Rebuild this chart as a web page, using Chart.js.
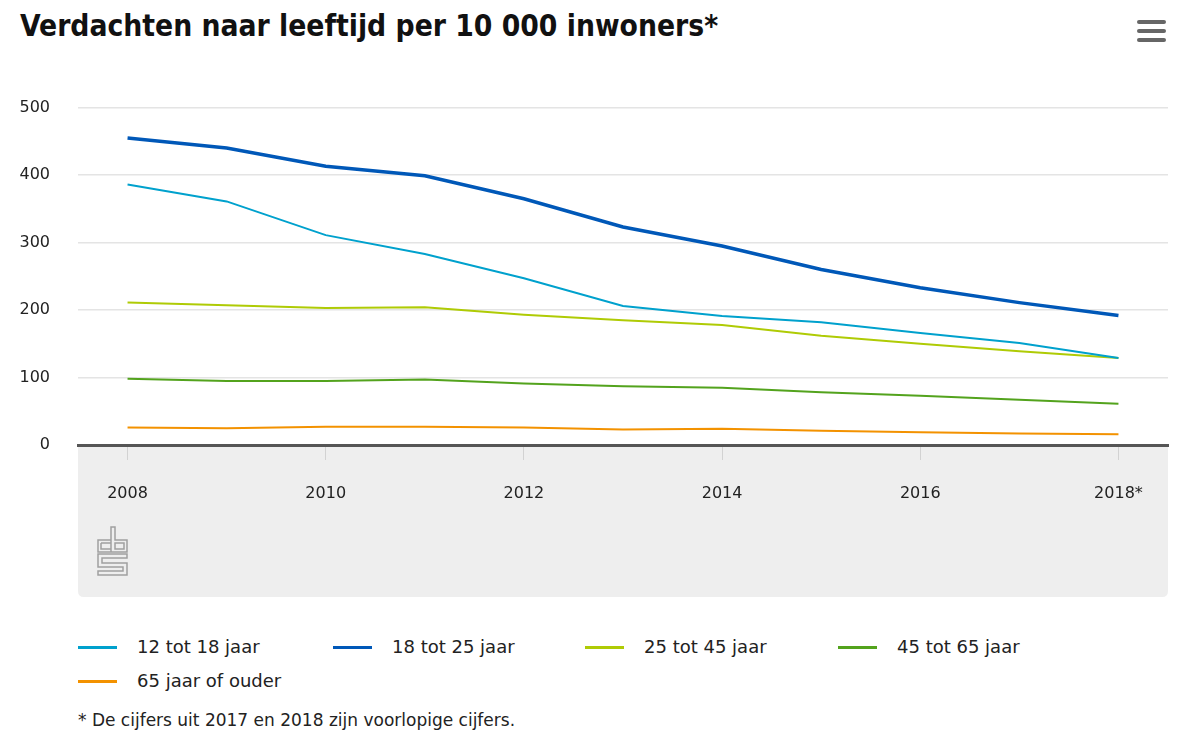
<!DOCTYPE html>
<html>
<head>
<meta charset="utf-8">
<script src="https://cdn.jsdelivr.net/npm/chart.js@4/dist/chart.umd.min.js"></script>
<style>
  body { margin: 0; background: #fff; font-family: "DejaVu Sans", sans-serif; color: #222; }
  #page { position: relative; width: 1200px; height: 737px; overflow: hidden; }
  #title { position: absolute; left: 20px; top: 8px; font-family: "DejaVu Sans Condensed", "DejaVu Sans", sans-serif;
    font-weight: bold; font-size: 29.7px; color: #111; white-space: nowrap; }
  #menu { position: absolute; left: 1137px; top: 20px; width: 29px; }
  #menu div { height: 4px; background: #666; border-radius: 2px; margin-bottom: 5px; }
  #wrap { position: absolute; left: 0; top: 70px; width: 1200px; height: 535px; }
  #legend { position: absolute; left: 78px; top: 634px; width: 1100px; font-size: 18px; color: #222; }
  #legend .item { position: absolute; white-space: nowrap; height: 26px; line-height: 26px; }
  #legend .swatch { display: inline-block; width: 39px; height: 3px; vertical-align: middle; margin-right: 20px; position: relative; top: -1px; }
  #note { position: absolute; left: 78px; top: 710px; font-size: 17px; color: #222; white-space: nowrap; }
</style>
</head>
<body>
<div id="page">
  <div id="title">Verdachten naar leeftijd per 10 000 inwoners*</div>
  <div id="menu"><div></div><div></div><div></div></div>
  <div id="wrap"><canvas id="lineChart"></canvas></div>
  <div id="legend"></div>
  <div id="note">* De cijfers uit 2017 en 2018 zijn voorlopige cijfers.</div>
</div>
<script>
  // data
  const years = [2008, 2009, 2010, 2011, 2012, 2013, 2014, 2015, 2016, 2017, 2018];
  const seriesNames = ["12 tot 18 jaar", "18 tot 25 jaar", "25 tot 45 jaar", "45 tot 65 jaar", "65 jaar of ouder"];
  const age12to18 = [386, 361, 311, 283, 247, 206, 191, 182, 166, 151, 129];
  const age18to25 = [455, 440, 413, 399, 365, 323, 295, 260, 233, 211, 192];
  const age25to45 = [211, 207, 203, 204, 193, 185, 178, 162, 150, 139, 129];
  const age45to65 = [98, 95, 95, 97, 91, 87, 85, 78, 73, 67, 61];
  const age65plus = [26, 25, 27, 27, 26, 23, 24, 21, 19, 17, 16];
  const yTicks = [0, 100, 200, 300, 400, 500];

  const colors = ["#00a1cd", "#0058b8", "#afcb05", "#53a31d", "#f39200"];
  const widths = [2, 3.5, 2, 2, 2];
  const allSeries = [age12to18, age18to25, age25to45, age45to65, age65plus];

  const datasets = allSeries.map((vals, i) => ({
    label: seriesNames[i],
    data: years.map((yr, j) => ({ x: yr, y: vals[j] })),
    borderColor: colors[i],
    backgroundColor: colors[i],
    borderWidth: widths[i],
    pointRadius: 0,
    pointHoverRadius: 0,
    tension: 0,
    fill: false,
    order: i === 1 ? 0 : 1,
  }));

  // grey panel under the x axis plus the cbs mark
  const axisPanel = {
    id: 'axisPanel',
    beforeDraw(chart) {
      const { ctx, chartArea } = chart;
      const x = chart.scales.x;
      const l = chartArea.left, r = chartArea.right, t = chartArea.bottom, b = x.bottom, rad = 6;
      ctx.save();
      ctx.fillStyle = '#eeeeee';
      ctx.beginPath();
      ctx.moveTo(l, t);
      ctx.lineTo(r, t);
      ctx.lineTo(r, b - rad);
      ctx.quadraticCurveTo(r, b, r - rad, b);
      ctx.lineTo(l + rad, b);
      ctx.quadraticCurveTo(l, b, l, b - rad);
      ctx.closePath();
      ctx.fill();

      // cbs logo, rough outline
      const ox = l + 20, oy = t + 82;
      ctx.strokeStyle = '#a0a0a0';
      ctx.lineWidth = 1.5;
      ctx.beginPath();
      // c
      ctx.rect(ox, oy + 13, 13, 12);
      ctx.moveTo(ox + 3, oy + 16); ctx.lineTo(ox + 13, oy + 16);
      ctx.moveTo(ox + 3, oy + 16); ctx.lineTo(ox + 3, oy + 22); ctx.lineTo(ox + 13, oy + 22);
      // b
      ctx.moveTo(ox + 13, oy + 25); ctx.lineTo(ox + 13, oy); ctx.lineTo(ox + 17, oy);
      ctx.lineTo(ox + 17, oy + 13); ctx.lineTo(ox + 29, oy + 13); ctx.lineTo(ox + 29, oy + 25); ctx.lineTo(ox + 13, oy + 25);
      ctx.rect(ox + 17, oy + 16, 9, 6);
      // s
      ctx.moveTo(ox, oy + 27); ctx.lineTo(ox + 29, oy + 27); ctx.lineTo(ox + 29, oy + 31); ctx.lineTo(ox + 4, oy + 31);
      ctx.lineTo(ox + 4, oy + 36); ctx.lineTo(ox + 29, oy + 36); ctx.lineTo(ox + 29, oy + 48); ctx.lineTo(ox, oy + 48);
      ctx.lineTo(ox, oy + 44); ctx.lineTo(ox + 25, oy + 44); ctx.lineTo(ox + 25, oy + 40); ctx.lineTo(ox, oy + 40); ctx.closePath();
      ctx.moveTo(ox, oy + 27); ctx.lineTo(ox, oy + 40);
      ctx.stroke();
      ctx.restore();
    }
  };

  const config = {
    type: 'line',
    data: { datasets },
    options: {
      responsive: true,
      maintainAspectRatio: false,
      animation: false,
      layout: { padding: { top: 12, bottom: 8, left: 0, right: 32 } },
      plugins: {
        legend: { display: false },
        tooltip: { enabled: false },
      },
      scales: {
        x: {
          type: 'linear',
          min: 2007.5,
          max: 2018.5,
          afterFit: (scale) => { scale.height = 152; },
          border: { display: true, color: '#555555', width: 3 },
          grid: { drawOnChartArea: false, drawTicks: true, tickLength: 15, tickColor: '#d2d2d2', lineWidth: 1 },
          ticks: {
            stepSize: 2,
            includeBounds: false,
            padding: 24,
            color: '#222',
            font: { family: 'DejaVu Sans', size: 16 },
            callback: (v) => v === years[years.length - 1] ? v + '*' : String(v),
          },
        },
        y: {
          min: yTicks[0],
          max: yTicks[yTicks.length - 1],
          afterFit: (scale) => { scale.width = 78; },
          border: { display: false },
          grid: { color: '#e4e4e4', lineWidth: 1.5, drawTicks: false },
          ticks: {
            stepSize: 100,
            padding: 28,
            color: '#222',
            font: { family: 'DejaVu Sans', size: 16 },
          },
        },
      },
    },
    plugins: [axisPanel],
  };

  const lineChart = new Chart(document.getElementById('lineChart').getContext('2d'), config);

  // legend
  const legendEl = document.getElementById('legend');
  const legendPos = [[0, 0], [255, 0], [507, 0], [760, 0], [0, 34]];
  seriesNames.forEach((name, i) => {
    const item = document.createElement('div');
    item.className = 'item';
    item.style.left = legendPos[i][0] + 'px';
    item.style.top = legendPos[i][1] + 'px';
    item.innerHTML = '<span class="swatch" style="background:' + colors[i] + '"></span>' + name;
    legendEl.appendChild(item);
  });
</script>
</body>
</html>
